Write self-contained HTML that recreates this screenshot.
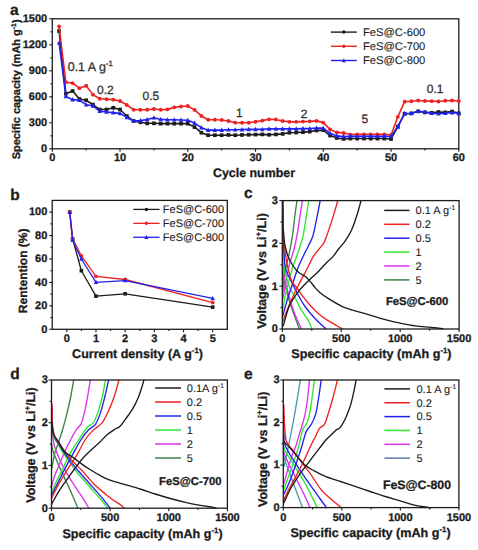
<!DOCTYPE html><html><head><meta charset="utf-8"><style>html,body{margin:0;padding:0;background:#fff;}svg{display:block;}text{font-family:"Liberation Sans", sans-serif;text-rendering:geometricPrecision;}</style></head><body>
<svg width="478" height="550" viewBox="0 0 478 550">
<rect width="478" height="550" fill="#ffffff"/>
<rect x="52.3" y="18.8" width="406.5" height="130" fill="none" stroke="#1c1c1c" stroke-width="1.3"/>
<line x1="52.3" y1="148.8" x2="52.3" y2="151.8" stroke="#1c1c1c" stroke-width="1.1"/>
<line x1="120.05" y1="148.8" x2="120.05" y2="151.8" stroke="#1c1c1c" stroke-width="1.1"/>
<line x1="187.8" y1="148.8" x2="187.8" y2="151.8" stroke="#1c1c1c" stroke-width="1.1"/>
<line x1="255.55" y1="148.8" x2="255.55" y2="151.8" stroke="#1c1c1c" stroke-width="1.1"/>
<line x1="323.3" y1="148.8" x2="323.3" y2="151.8" stroke="#1c1c1c" stroke-width="1.1"/>
<line x1="391.05" y1="148.8" x2="391.05" y2="151.8" stroke="#1c1c1c" stroke-width="1.1"/>
<line x1="458.8" y1="148.8" x2="458.8" y2="151.8" stroke="#1c1c1c" stroke-width="1.1"/>
<line x1="86.17" y1="148.8" x2="86.17" y2="150.6" stroke="#1c1c1c" stroke-width="1.1"/>
<line x1="153.93" y1="148.8" x2="153.93" y2="150.6" stroke="#1c1c1c" stroke-width="1.1"/>
<line x1="221.68" y1="148.8" x2="221.68" y2="150.6" stroke="#1c1c1c" stroke-width="1.1"/>
<line x1="289.43" y1="148.8" x2="289.43" y2="150.6" stroke="#1c1c1c" stroke-width="1.1"/>
<line x1="357.18" y1="148.8" x2="357.18" y2="150.6" stroke="#1c1c1c" stroke-width="1.1"/>
<line x1="424.93" y1="148.8" x2="424.93" y2="150.6" stroke="#1c1c1c" stroke-width="1.1"/>
<line x1="52.3" y1="148.8" x2="49.3" y2="148.8" stroke="#1c1c1c" stroke-width="1.1"/>
<line x1="52.3" y1="122.8" x2="49.3" y2="122.8" stroke="#1c1c1c" stroke-width="1.1"/>
<line x1="52.3" y1="96.8" x2="49.3" y2="96.8" stroke="#1c1c1c" stroke-width="1.1"/>
<line x1="52.3" y1="70.8" x2="49.3" y2="70.8" stroke="#1c1c1c" stroke-width="1.1"/>
<line x1="52.3" y1="44.8" x2="49.3" y2="44.8" stroke="#1c1c1c" stroke-width="1.1"/>
<line x1="52.3" y1="18.8" x2="49.3" y2="18.8" stroke="#1c1c1c" stroke-width="1.1"/>
<line x1="52.3" y1="135.8" x2="50.5" y2="135.8" stroke="#1c1c1c" stroke-width="1.1"/>
<line x1="52.3" y1="109.8" x2="50.5" y2="109.8" stroke="#1c1c1c" stroke-width="1.1"/>
<line x1="52.3" y1="83.8" x2="50.5" y2="83.8" stroke="#1c1c1c" stroke-width="1.1"/>
<line x1="52.3" y1="57.8" x2="50.5" y2="57.8" stroke="#1c1c1c" stroke-width="1.1"/>
<line x1="52.3" y1="31.8" x2="50.5" y2="31.8" stroke="#1c1c1c" stroke-width="1.1"/>
<text x="52.3" y="161.3" font-size="11" font-weight="bold" text-anchor="middle" fill="#1c1c1c" stroke="#1c1c1c" stroke-width="0.3">0</text>
<text x="120.05" y="161.3" font-size="11" font-weight="bold" text-anchor="middle" fill="#1c1c1c" stroke="#1c1c1c" stroke-width="0.3">10</text>
<text x="187.8" y="161.3" font-size="11" font-weight="bold" text-anchor="middle" fill="#1c1c1c" stroke="#1c1c1c" stroke-width="0.3">20</text>
<text x="255.55" y="161.3" font-size="11" font-weight="bold" text-anchor="middle" fill="#1c1c1c" stroke="#1c1c1c" stroke-width="0.3">30</text>
<text x="323.3" y="161.3" font-size="11" font-weight="bold" text-anchor="middle" fill="#1c1c1c" stroke="#1c1c1c" stroke-width="0.3">40</text>
<text x="391.05" y="161.3" font-size="11" font-weight="bold" text-anchor="middle" fill="#1c1c1c" stroke="#1c1c1c" stroke-width="0.3">50</text>
<text x="458.8" y="161.3" font-size="11" font-weight="bold" text-anchor="middle" fill="#1c1c1c" stroke="#1c1c1c" stroke-width="0.3">60</text>
<text x="47.2" y="152.14" font-size="11" font-weight="bold" text-anchor="end" fill="#1c1c1c" stroke="#1c1c1c" stroke-width="0.3">0</text>
<text x="47.2" y="126.14" font-size="11" font-weight="bold" text-anchor="end" fill="#1c1c1c" stroke="#1c1c1c" stroke-width="0.3">300</text>
<text x="47.2" y="100.14" font-size="11" font-weight="bold" text-anchor="end" fill="#1c1c1c" stroke="#1c1c1c" stroke-width="0.3">600</text>
<text x="47.2" y="74.14" font-size="11" font-weight="bold" text-anchor="end" fill="#1c1c1c" stroke="#1c1c1c" stroke-width="0.3">900</text>
<text x="47.2" y="48.14" font-size="11" font-weight="bold" text-anchor="end" fill="#1c1c1c" stroke="#1c1c1c" stroke-width="0.3">1200</text>
<text x="47.2" y="22.14" font-size="11" font-weight="bold" text-anchor="end" fill="#1c1c1c" stroke="#1c1c1c" stroke-width="0.3">1500</text>
<polyline points="59.07,31.02 65.85,93.68 72.62,90.99 79.4,98.97 86.17,100.27 92.95,104.6 99.72,109.54 106.5,109.45 113.28,107.81 120.05,109.54 126.83,116.04 133.6,120.98 140.38,122.28 147.15,123.32 153.93,123.32 160.7,123.67 167.47,123.67 174.25,123.67 181.02,123.67 187.8,123.67 194.57,127.13 201.35,132.68 208.12,135.19 214.9,135.19 221.68,135.19 228.45,134.93 235.23,135.19 242,134.93 248.77,134.76 255.55,134.59 262.32,134.41 269.1,134.76 275.88,134.41 282.65,133.89 289.43,132.68 296.2,132.51 302.98,132.16 309.75,131.64 316.53,130.51 323.3,130.08 330.07,135.54 336.85,137.97 343.62,138.92 350.4,138.57 357.18,138.57 363.95,138.57 370.73,138.57 377.5,138.57 384.28,138.57 391.05,139.01 397.82,126.7 404.6,113.7 411.38,113.44 418.15,111.36 424.93,112.4 431.7,112.83 438.48,111.97 445.25,112.4 452.03,111.53 458.8,113.27" fill="none" stroke="#1c1c1c" stroke-width="1.6" stroke-linejoin="round"/>
<rect x="57.22" y="29.17" width="3.7" height="3.7" fill="#1c1c1c"/>
<rect x="64" y="91.83" width="3.7" height="3.7" fill="#1c1c1c"/>
<rect x="70.78" y="89.14" width="3.7" height="3.7" fill="#1c1c1c"/>
<rect x="77.55" y="97.12" width="3.7" height="3.7" fill="#1c1c1c"/>
<rect x="84.33" y="98.42" width="3.7" height="3.7" fill="#1c1c1c"/>
<rect x="91.1" y="102.75" width="3.7" height="3.7" fill="#1c1c1c"/>
<rect x="97.88" y="107.69" width="3.7" height="3.7" fill="#1c1c1c"/>
<rect x="104.65" y="107.6" width="3.7" height="3.7" fill="#1c1c1c"/>
<rect x="111.43" y="105.96" width="3.7" height="3.7" fill="#1c1c1c"/>
<rect x="118.2" y="107.69" width="3.7" height="3.7" fill="#1c1c1c"/>
<rect x="124.98" y="114.19" width="3.7" height="3.7" fill="#1c1c1c"/>
<rect x="131.75" y="119.13" width="3.7" height="3.7" fill="#1c1c1c"/>
<rect x="138.53" y="120.43" width="3.7" height="3.7" fill="#1c1c1c"/>
<rect x="145.3" y="121.47" width="3.7" height="3.7" fill="#1c1c1c"/>
<rect x="152.08" y="121.47" width="3.7" height="3.7" fill="#1c1c1c"/>
<rect x="158.85" y="121.82" width="3.7" height="3.7" fill="#1c1c1c"/>
<rect x="165.62" y="121.82" width="3.7" height="3.7" fill="#1c1c1c"/>
<rect x="172.4" y="121.82" width="3.7" height="3.7" fill="#1c1c1c"/>
<rect x="179.17" y="121.82" width="3.7" height="3.7" fill="#1c1c1c"/>
<rect x="185.95" y="121.82" width="3.7" height="3.7" fill="#1c1c1c"/>
<rect x="192.72" y="125.28" width="3.7" height="3.7" fill="#1c1c1c"/>
<rect x="199.5" y="130.83" width="3.7" height="3.7" fill="#1c1c1c"/>
<rect x="206.28" y="133.34" width="3.7" height="3.7" fill="#1c1c1c"/>
<rect x="213.05" y="133.34" width="3.7" height="3.7" fill="#1c1c1c"/>
<rect x="219.83" y="133.34" width="3.7" height="3.7" fill="#1c1c1c"/>
<rect x="226.6" y="133.08" width="3.7" height="3.7" fill="#1c1c1c"/>
<rect x="233.38" y="133.34" width="3.7" height="3.7" fill="#1c1c1c"/>
<rect x="240.15" y="133.08" width="3.7" height="3.7" fill="#1c1c1c"/>
<rect x="246.92" y="132.91" width="3.7" height="3.7" fill="#1c1c1c"/>
<rect x="253.7" y="132.74" width="3.7" height="3.7" fill="#1c1c1c"/>
<rect x="260.47" y="132.56" width="3.7" height="3.7" fill="#1c1c1c"/>
<rect x="267.25" y="132.91" width="3.7" height="3.7" fill="#1c1c1c"/>
<rect x="274.02" y="132.56" width="3.7" height="3.7" fill="#1c1c1c"/>
<rect x="280.8" y="132.04" width="3.7" height="3.7" fill="#1c1c1c"/>
<rect x="287.57" y="130.83" width="3.7" height="3.7" fill="#1c1c1c"/>
<rect x="294.35" y="130.66" width="3.7" height="3.7" fill="#1c1c1c"/>
<rect x="301.12" y="130.31" width="3.7" height="3.7" fill="#1c1c1c"/>
<rect x="307.9" y="129.79" width="3.7" height="3.7" fill="#1c1c1c"/>
<rect x="314.68" y="128.66" width="3.7" height="3.7" fill="#1c1c1c"/>
<rect x="321.45" y="128.23" width="3.7" height="3.7" fill="#1c1c1c"/>
<rect x="328.22" y="133.69" width="3.7" height="3.7" fill="#1c1c1c"/>
<rect x="335" y="136.12" width="3.7" height="3.7" fill="#1c1c1c"/>
<rect x="341.77" y="137.07" width="3.7" height="3.7" fill="#1c1c1c"/>
<rect x="348.55" y="136.72" width="3.7" height="3.7" fill="#1c1c1c"/>
<rect x="355.32" y="136.72" width="3.7" height="3.7" fill="#1c1c1c"/>
<rect x="362.1" y="136.72" width="3.7" height="3.7" fill="#1c1c1c"/>
<rect x="368.88" y="136.72" width="3.7" height="3.7" fill="#1c1c1c"/>
<rect x="375.65" y="136.72" width="3.7" height="3.7" fill="#1c1c1c"/>
<rect x="382.43" y="136.72" width="3.7" height="3.7" fill="#1c1c1c"/>
<rect x="389.2" y="137.16" width="3.7" height="3.7" fill="#1c1c1c"/>
<rect x="395.97" y="124.85" width="3.7" height="3.7" fill="#1c1c1c"/>
<rect x="402.75" y="111.85" width="3.7" height="3.7" fill="#1c1c1c"/>
<rect x="409.52" y="111.59" width="3.7" height="3.7" fill="#1c1c1c"/>
<rect x="416.3" y="109.51" width="3.7" height="3.7" fill="#1c1c1c"/>
<rect x="423.07" y="110.55" width="3.7" height="3.7" fill="#1c1c1c"/>
<rect x="429.85" y="110.98" width="3.7" height="3.7" fill="#1c1c1c"/>
<rect x="436.62" y="110.12" width="3.7" height="3.7" fill="#1c1c1c"/>
<rect x="443.4" y="110.55" width="3.7" height="3.7" fill="#1c1c1c"/>
<rect x="450.18" y="109.68" width="3.7" height="3.7" fill="#1c1c1c"/>
<rect x="456.95" y="111.42" width="3.7" height="3.7" fill="#1c1c1c"/>
<polyline points="59.07,26.51 65.85,82.24 72.62,83.11 79.4,88.13 86.17,85.71 92.95,94.63 99.72,98.71 106.5,99.23 113.28,99.66 120.05,100.96 126.83,105.03 133.6,109.71 140.38,109.71 147.15,109.8 153.93,109.02 160.7,109.8 167.47,109.37 174.25,107.37 181.02,106.51 187.8,105.99 194.57,109.89 201.35,115.95 208.12,119.77 214.9,119.77 221.68,119.94 228.45,120.98 235.23,122.63 242,122.8 248.77,122.8 255.55,121.76 262.32,120.63 269.1,119.33 275.88,119.51 282.65,120.98 289.43,121.85 296.2,121.85 302.98,121.59 309.75,121.33 316.53,120.89 323.3,122.63 330.07,129.39 336.85,132.42 343.62,133.03 350.4,134.59 357.18,134.41 363.95,134.41 370.73,134.41 377.5,134.41 384.28,134.41 391.05,134.93 397.82,116.82 404.6,101.65 411.38,101.22 418.15,100.53 424.93,100.96 431.7,101.13 438.48,101.48 445.25,100.7 452.03,100.53 458.8,100.96" fill="none" stroke="#ee2222" stroke-width="1.6" stroke-linejoin="round"/>
<circle cx="59.07" cy="26.51" r="1.94" fill="#ee2222"/>
<circle cx="65.85" cy="82.24" r="1.94" fill="#ee2222"/>
<circle cx="72.62" cy="83.11" r="1.94" fill="#ee2222"/>
<circle cx="79.4" cy="88.13" r="1.94" fill="#ee2222"/>
<circle cx="86.17" cy="85.71" r="1.94" fill="#ee2222"/>
<circle cx="92.95" cy="94.63" r="1.94" fill="#ee2222"/>
<circle cx="99.72" cy="98.71" r="1.94" fill="#ee2222"/>
<circle cx="106.5" cy="99.23" r="1.94" fill="#ee2222"/>
<circle cx="113.28" cy="99.66" r="1.94" fill="#ee2222"/>
<circle cx="120.05" cy="100.96" r="1.94" fill="#ee2222"/>
<circle cx="126.83" cy="105.03" r="1.94" fill="#ee2222"/>
<circle cx="133.6" cy="109.71" r="1.94" fill="#ee2222"/>
<circle cx="140.38" cy="109.71" r="1.94" fill="#ee2222"/>
<circle cx="147.15" cy="109.8" r="1.94" fill="#ee2222"/>
<circle cx="153.93" cy="109.02" r="1.94" fill="#ee2222"/>
<circle cx="160.7" cy="109.8" r="1.94" fill="#ee2222"/>
<circle cx="167.47" cy="109.37" r="1.94" fill="#ee2222"/>
<circle cx="174.25" cy="107.37" r="1.94" fill="#ee2222"/>
<circle cx="181.02" cy="106.51" r="1.94" fill="#ee2222"/>
<circle cx="187.8" cy="105.99" r="1.94" fill="#ee2222"/>
<circle cx="194.57" cy="109.89" r="1.94" fill="#ee2222"/>
<circle cx="201.35" cy="115.95" r="1.94" fill="#ee2222"/>
<circle cx="208.12" cy="119.77" r="1.94" fill="#ee2222"/>
<circle cx="214.9" cy="119.77" r="1.94" fill="#ee2222"/>
<circle cx="221.68" cy="119.94" r="1.94" fill="#ee2222"/>
<circle cx="228.45" cy="120.98" r="1.94" fill="#ee2222"/>
<circle cx="235.23" cy="122.63" r="1.94" fill="#ee2222"/>
<circle cx="242" cy="122.8" r="1.94" fill="#ee2222"/>
<circle cx="248.77" cy="122.8" r="1.94" fill="#ee2222"/>
<circle cx="255.55" cy="121.76" r="1.94" fill="#ee2222"/>
<circle cx="262.32" cy="120.63" r="1.94" fill="#ee2222"/>
<circle cx="269.1" cy="119.33" r="1.94" fill="#ee2222"/>
<circle cx="275.88" cy="119.51" r="1.94" fill="#ee2222"/>
<circle cx="282.65" cy="120.98" r="1.94" fill="#ee2222"/>
<circle cx="289.43" cy="121.85" r="1.94" fill="#ee2222"/>
<circle cx="296.2" cy="121.85" r="1.94" fill="#ee2222"/>
<circle cx="302.98" cy="121.59" r="1.94" fill="#ee2222"/>
<circle cx="309.75" cy="121.33" r="1.94" fill="#ee2222"/>
<circle cx="316.53" cy="120.89" r="1.94" fill="#ee2222"/>
<circle cx="323.3" cy="122.63" r="1.94" fill="#ee2222"/>
<circle cx="330.07" cy="129.39" r="1.94" fill="#ee2222"/>
<circle cx="336.85" cy="132.42" r="1.94" fill="#ee2222"/>
<circle cx="343.62" cy="133.03" r="1.94" fill="#ee2222"/>
<circle cx="350.4" cy="134.59" r="1.94" fill="#ee2222"/>
<circle cx="357.18" cy="134.41" r="1.94" fill="#ee2222"/>
<circle cx="363.95" cy="134.41" r="1.94" fill="#ee2222"/>
<circle cx="370.73" cy="134.41" r="1.94" fill="#ee2222"/>
<circle cx="377.5" cy="134.41" r="1.94" fill="#ee2222"/>
<circle cx="384.28" cy="134.41" r="1.94" fill="#ee2222"/>
<circle cx="391.05" cy="134.93" r="1.94" fill="#ee2222"/>
<circle cx="397.82" cy="116.82" r="1.94" fill="#ee2222"/>
<circle cx="404.6" cy="101.65" r="1.94" fill="#ee2222"/>
<circle cx="411.38" cy="101.22" r="1.94" fill="#ee2222"/>
<circle cx="418.15" cy="100.53" r="1.94" fill="#ee2222"/>
<circle cx="424.93" cy="100.96" r="1.94" fill="#ee2222"/>
<circle cx="431.7" cy="101.13" r="1.94" fill="#ee2222"/>
<circle cx="438.48" cy="101.48" r="1.94" fill="#ee2222"/>
<circle cx="445.25" cy="100.7" r="1.94" fill="#ee2222"/>
<circle cx="452.03" cy="100.53" r="1.94" fill="#ee2222"/>
<circle cx="458.8" cy="100.96" r="1.94" fill="#ee2222"/>
<polyline points="59.07,42.72 65.85,96.37 72.62,99.66 79.4,100.27 86.17,104.69 92.95,105.81 99.72,111.19 106.5,111.97 113.28,112.66 120.05,113.35 126.83,117.43 133.6,120.98 140.38,120.63 147.15,119.42 153.93,117.69 160.7,119.42 167.47,119.77 174.25,119.77 181.02,119.94 187.8,120.2 194.57,123.06 201.35,127.65 208.12,130.17 214.9,130.17 221.68,130.17 228.45,129.73 235.23,129.73 242,129.56 248.77,129.39 255.55,129.39 262.32,129.3 269.1,128.87 275.88,128.87 282.65,128.87 289.43,128.87 296.2,128.87 302.98,128.61 309.75,128.61 316.53,128 323.3,128.17 330.07,133.37 336.85,135.89 343.62,136.58 350.4,136.23 357.18,136.23 363.95,136.23 370.73,136.23 377.5,136.23 384.28,136.23 391.05,136.49 397.82,126.53 404.6,113.53 411.38,113.27 418.15,111.19 424.93,111.97 431.7,113.18 438.48,113.7 445.25,113.18 452.03,112.57 458.8,113.44" fill="none" stroke="#2222ee" stroke-width="1.6" stroke-linejoin="round"/>
<polygon points="59.07,40.18 56.76,44.57 61.39,44.57" fill="#2222ee"/>
<polygon points="65.85,93.82 63.54,98.22 68.16,98.22" fill="#2222ee"/>
<polygon points="72.62,97.12 70.31,101.51 74.94,101.51" fill="#2222ee"/>
<polygon points="79.4,97.72 77.09,102.12 81.71,102.12" fill="#2222ee"/>
<polygon points="86.17,102.14 83.86,106.54 88.49,106.54" fill="#2222ee"/>
<polygon points="92.95,103.27 90.64,107.66 95.26,107.66" fill="#2222ee"/>
<polygon points="99.72,108.64 97.41,113.04 102.04,113.04" fill="#2222ee"/>
<polygon points="106.5,109.42 104.19,113.82 108.81,113.82" fill="#2222ee"/>
<polygon points="113.28,110.12 110.96,114.51 115.59,114.51" fill="#2222ee"/>
<polygon points="120.05,110.81 117.74,115.2 122.36,115.2" fill="#2222ee"/>
<polygon points="126.83,114.88 124.51,119.28 129.14,119.28" fill="#2222ee"/>
<polygon points="133.6,118.44 131.29,122.83 135.91,122.83" fill="#2222ee"/>
<polygon points="140.38,118.09 138.06,122.48 142.69,122.48" fill="#2222ee"/>
<polygon points="147.15,116.88 144.84,121.27 149.46,121.27" fill="#2222ee"/>
<polygon points="153.93,115.14 151.61,119.54 156.24,119.54" fill="#2222ee"/>
<polygon points="160.7,116.88 158.39,121.27 163.01,121.27" fill="#2222ee"/>
<polygon points="167.47,117.22 165.16,121.62 169.79,121.62" fill="#2222ee"/>
<polygon points="174.25,117.22 171.94,121.62 176.56,121.62" fill="#2222ee"/>
<polygon points="181.02,117.4 178.71,121.79 183.34,121.79" fill="#2222ee"/>
<polygon points="187.8,117.66 185.49,122.05 190.11,122.05" fill="#2222ee"/>
<polygon points="194.57,120.52 192.26,124.91 196.89,124.91" fill="#2222ee"/>
<polygon points="201.35,125.11 199.04,129.5 203.66,129.5" fill="#2222ee"/>
<polygon points="208.12,127.62 205.81,132.02 210.44,132.02" fill="#2222ee"/>
<polygon points="214.9,127.62 212.59,132.02 217.21,132.02" fill="#2222ee"/>
<polygon points="221.68,127.62 219.36,132.02 223.99,132.02" fill="#2222ee"/>
<polygon points="228.45,127.19 226.14,131.58 230.76,131.58" fill="#2222ee"/>
<polygon points="235.23,127.19 232.91,131.58 237.54,131.58" fill="#2222ee"/>
<polygon points="242,127.02 239.69,131.41 244.31,131.41" fill="#2222ee"/>
<polygon points="248.77,126.84 246.46,131.24 251.09,131.24" fill="#2222ee"/>
<polygon points="255.55,126.84 253.24,131.24 257.86,131.24" fill="#2222ee"/>
<polygon points="262.32,126.76 260.01,131.15 264.64,131.15" fill="#2222ee"/>
<polygon points="269.1,126.32 266.79,130.72 271.41,130.72" fill="#2222ee"/>
<polygon points="275.88,126.32 273.56,130.72 278.19,130.72" fill="#2222ee"/>
<polygon points="282.65,126.32 280.34,130.72 284.96,130.72" fill="#2222ee"/>
<polygon points="289.43,126.32 287.11,130.72 291.74,130.72" fill="#2222ee"/>
<polygon points="296.2,126.32 293.89,130.72 298.51,130.72" fill="#2222ee"/>
<polygon points="302.98,126.06 300.66,130.46 305.29,130.46" fill="#2222ee"/>
<polygon points="309.75,126.06 307.44,130.46 312.06,130.46" fill="#2222ee"/>
<polygon points="316.53,125.46 314.21,129.85 318.84,129.85" fill="#2222ee"/>
<polygon points="323.3,125.63 320.99,130.02 325.61,130.02" fill="#2222ee"/>
<polygon points="330.07,130.83 327.76,135.22 332.39,135.22" fill="#2222ee"/>
<polygon points="336.85,133.34 334.54,137.74 339.16,137.74" fill="#2222ee"/>
<polygon points="343.62,134.04 341.31,138.43 345.94,138.43" fill="#2222ee"/>
<polygon points="350.4,133.69 348.09,138.08 352.71,138.08" fill="#2222ee"/>
<polygon points="357.18,133.69 354.86,138.08 359.49,138.08" fill="#2222ee"/>
<polygon points="363.95,133.69 361.64,138.08 366.26,138.08" fill="#2222ee"/>
<polygon points="370.73,133.69 368.41,138.08 373.04,138.08" fill="#2222ee"/>
<polygon points="377.5,133.69 375.19,138.08 379.81,138.08" fill="#2222ee"/>
<polygon points="384.28,133.69 381.96,138.08 386.59,138.08" fill="#2222ee"/>
<polygon points="391.05,133.95 388.74,138.34 393.36,138.34" fill="#2222ee"/>
<polygon points="397.82,123.98 395.51,128.38 400.14,128.38" fill="#2222ee"/>
<polygon points="404.6,110.98 402.29,115.38 406.91,115.38" fill="#2222ee"/>
<polygon points="411.38,110.72 409.06,115.12 413.69,115.12" fill="#2222ee"/>
<polygon points="418.15,108.64 415.84,113.04 420.46,113.04" fill="#2222ee"/>
<polygon points="424.93,109.42 422.61,113.82 427.24,113.82" fill="#2222ee"/>
<polygon points="431.7,110.64 429.39,115.03 434.01,115.03" fill="#2222ee"/>
<polygon points="438.48,111.16 436.16,115.55 440.79,115.55" fill="#2222ee"/>
<polygon points="445.25,110.64 442.94,115.03 447.56,115.03" fill="#2222ee"/>
<polygon points="452.03,110.03 449.71,114.42 454.34,114.42" fill="#2222ee"/>
<polygon points="458.8,110.9 456.49,115.29 461.11,115.29" fill="#2222ee"/>
<text x="254" y="177.2" font-size="12.4" font-weight="bold" text-anchor="middle" fill="#1c1c1c" stroke="#1c1c1c" stroke-width="0.3">Cycle number</text>
<text x="19.9" y="89.4" font-size="11" font-weight="bold" text-anchor="middle" fill="#1c1c1c" stroke="#1c1c1c" stroke-width="0.3" transform="rotate(-90 19.9 89.4)">Specific capacity (mAh g<tspan font-size="6.82" dy="-4.18">-1</tspan><tspan dy="4.18" font-size="11">)</tspan></text>
<text x="10" y="15" font-size="15.5" font-weight="bold" text-anchor="start" fill="#1c1c1c" stroke="#1c1c1c" stroke-width="0.3">a</text>
<text x="67.7" y="71" font-size="12.5" font-weight="normal" text-anchor="start" fill="#333333" stroke="#333333" stroke-width="0.3">0.1 A g<tspan font-size="7.75" dy="-4.75">-1</tspan></text>
<text x="97" y="94" font-size="12" font-weight="normal" text-anchor="start" fill="#333333" stroke="#333333" stroke-width="0.3">0.2</text>
<text x="142.6" y="100.2" font-size="12" font-weight="normal" text-anchor="start" fill="#333333" stroke="#333333" stroke-width="0.3">0.5</text>
<text x="236" y="117.3" font-size="12" font-weight="normal" text-anchor="start" fill="#333333" stroke="#333333" stroke-width="0.3">1</text>
<text x="300.7" y="118.1" font-size="12" font-weight="normal" text-anchor="start" fill="#333333" stroke="#333333" stroke-width="0.3">2</text>
<text x="361.5" y="123.2" font-size="12" font-weight="normal" text-anchor="start" fill="#333333" stroke="#333333" stroke-width="0.3">5</text>
<text x="426.8" y="93.4" font-size="12" font-weight="normal" text-anchor="start" fill="#333333" stroke="#333333" stroke-width="0.3">0.1</text>
<line x1="330.9" y1="32.1" x2="356.8" y2="32.1" stroke="#1c1c1c" stroke-width="1.4"/>
<circle cx="343.8" cy="32.1" r="1.73" fill="#1c1c1c"/>
<text x="363" y="35.7" font-size="11.2" font-weight="normal" text-anchor="start" fill="#1c1c1c" stroke="#1c1c1c" stroke-width="0.1">FeS@C-600</text>
<line x1="330.9" y1="46.3" x2="356.8" y2="46.3" stroke="#ee2222" stroke-width="1.4"/>
<circle cx="343.8" cy="46.3" r="1.73" fill="#ee2222"/>
<text x="363" y="49.9" font-size="11.2" font-weight="normal" text-anchor="start" fill="#1c1c1c" stroke="#1c1c1c" stroke-width="0.1">FeS@C-700</text>
<line x1="330.9" y1="60.5" x2="356.8" y2="60.5" stroke="#2222ee" stroke-width="1.4"/>
<polygon points="343.8,58.23 341.74,62.15 345.86,62.15" fill="#2222ee"/>
<text x="363" y="64.1" font-size="11.2" font-weight="normal" text-anchor="start" fill="#1c1c1c" stroke="#1c1c1c" stroke-width="0.1">FeS@C-800</text>
<rect x="52.2" y="200.4" width="175.1" height="128.9" fill="none" stroke="#1c1c1c" stroke-width="1.3"/>
<line x1="66.79" y1="329.3" x2="66.79" y2="332.3" stroke="#1c1c1c" stroke-width="1.1"/>
<line x1="95.98" y1="329.3" x2="95.98" y2="332.3" stroke="#1c1c1c" stroke-width="1.1"/>
<line x1="125.16" y1="329.3" x2="125.16" y2="332.3" stroke="#1c1c1c" stroke-width="1.1"/>
<line x1="154.34" y1="329.3" x2="154.34" y2="332.3" stroke="#1c1c1c" stroke-width="1.1"/>
<line x1="183.53" y1="329.3" x2="183.53" y2="332.3" stroke="#1c1c1c" stroke-width="1.1"/>
<line x1="212.71" y1="329.3" x2="212.71" y2="332.3" stroke="#1c1c1c" stroke-width="1.1"/>
<line x1="81.38" y1="329.3" x2="81.38" y2="331.1" stroke="#1c1c1c" stroke-width="1.1"/>
<line x1="110.57" y1="329.3" x2="110.57" y2="331.1" stroke="#1c1c1c" stroke-width="1.1"/>
<line x1="139.75" y1="329.3" x2="139.75" y2="331.1" stroke="#1c1c1c" stroke-width="1.1"/>
<line x1="168.93" y1="329.3" x2="168.93" y2="331.1" stroke="#1c1c1c" stroke-width="1.1"/>
<line x1="198.12" y1="329.3" x2="198.12" y2="331.1" stroke="#1c1c1c" stroke-width="1.1"/>
<line x1="52.2" y1="329.3" x2="49.2" y2="329.3" stroke="#1c1c1c" stroke-width="1.1"/>
<line x1="52.2" y1="305.86" x2="49.2" y2="305.86" stroke="#1c1c1c" stroke-width="1.1"/>
<line x1="52.2" y1="282.43" x2="49.2" y2="282.43" stroke="#1c1c1c" stroke-width="1.1"/>
<line x1="52.2" y1="258.99" x2="49.2" y2="258.99" stroke="#1c1c1c" stroke-width="1.1"/>
<line x1="52.2" y1="235.55" x2="49.2" y2="235.55" stroke="#1c1c1c" stroke-width="1.1"/>
<line x1="52.2" y1="212.12" x2="49.2" y2="212.12" stroke="#1c1c1c" stroke-width="1.1"/>
<line x1="52.2" y1="317.58" x2="50.4" y2="317.58" stroke="#1c1c1c" stroke-width="1.1"/>
<line x1="52.2" y1="294.15" x2="50.4" y2="294.15" stroke="#1c1c1c" stroke-width="1.1"/>
<line x1="52.2" y1="270.71" x2="50.4" y2="270.71" stroke="#1c1c1c" stroke-width="1.1"/>
<line x1="52.2" y1="247.27" x2="50.4" y2="247.27" stroke="#1c1c1c" stroke-width="1.1"/>
<line x1="52.2" y1="223.84" x2="50.4" y2="223.84" stroke="#1c1c1c" stroke-width="1.1"/>
<text x="66.79" y="341.8" font-size="11" font-weight="bold" text-anchor="middle" fill="#1c1c1c" stroke="#1c1c1c" stroke-width="0.3">0</text>
<text x="95.98" y="341.8" font-size="11" font-weight="bold" text-anchor="middle" fill="#1c1c1c" stroke="#1c1c1c" stroke-width="0.3">1</text>
<text x="125.16" y="341.8" font-size="11" font-weight="bold" text-anchor="middle" fill="#1c1c1c" stroke="#1c1c1c" stroke-width="0.3">2</text>
<text x="154.34" y="341.8" font-size="11" font-weight="bold" text-anchor="middle" fill="#1c1c1c" stroke="#1c1c1c" stroke-width="0.3">3</text>
<text x="183.53" y="341.8" font-size="11" font-weight="bold" text-anchor="middle" fill="#1c1c1c" stroke="#1c1c1c" stroke-width="0.3">4</text>
<text x="212.71" y="341.8" font-size="11" font-weight="bold" text-anchor="middle" fill="#1c1c1c" stroke="#1c1c1c" stroke-width="0.3">5</text>
<text x="47.3" y="332.64" font-size="11" font-weight="bold" text-anchor="end" fill="#1c1c1c" stroke="#1c1c1c" stroke-width="0.3">0</text>
<text x="47.3" y="309.2" font-size="11" font-weight="bold" text-anchor="end" fill="#1c1c1c" stroke="#1c1c1c" stroke-width="0.3">20</text>
<text x="47.3" y="285.77" font-size="11" font-weight="bold" text-anchor="end" fill="#1c1c1c" stroke="#1c1c1c" stroke-width="0.3">40</text>
<text x="47.3" y="262.33" font-size="11" font-weight="bold" text-anchor="end" fill="#1c1c1c" stroke="#1c1c1c" stroke-width="0.3">60</text>
<text x="47.3" y="238.89" font-size="11" font-weight="bold" text-anchor="end" fill="#1c1c1c" stroke="#1c1c1c" stroke-width="0.3">80</text>
<text x="47.3" y="215.46" font-size="11" font-weight="bold" text-anchor="end" fill="#1c1c1c" stroke="#1c1c1c" stroke-width="0.3">100</text>
<polyline points="69.71,212.12 72.63,239.07 81.38,270.71 95.98,296.14 125.16,293.79 212.71,307.15" fill="none" stroke="#1c1c1c" stroke-width="1.3" stroke-linejoin="round"/>
<rect x="67.91" y="210.32" width="3.6" height="3.6" fill="#1c1c1c"/>
<rect x="70.83" y="237.27" width="3.6" height="3.6" fill="#1c1c1c"/>
<rect x="79.58" y="268.91" width="3.6" height="3.6" fill="#1c1c1c"/>
<rect x="94.18" y="294.34" width="3.6" height="3.6" fill="#1c1c1c"/>
<rect x="123.36" y="291.99" width="3.6" height="3.6" fill="#1c1c1c"/>
<rect x="210.91" y="305.35" width="3.6" height="3.6" fill="#1c1c1c"/>
<polyline points="69.71,212.12 72.63,238.48 81.38,255.94 95.98,276.33 125.16,279.5 212.71,302.58" fill="none" stroke="#ee2222" stroke-width="1.3" stroke-linejoin="round"/>
<circle cx="69.71" cy="212.12" r="1.89" fill="#ee2222"/>
<circle cx="72.63" cy="238.48" r="1.89" fill="#ee2222"/>
<circle cx="81.38" cy="255.94" r="1.89" fill="#ee2222"/>
<circle cx="95.98" cy="276.33" r="1.89" fill="#ee2222"/>
<circle cx="125.16" cy="279.5" r="1.89" fill="#ee2222"/>
<circle cx="212.71" cy="302.58" r="1.89" fill="#ee2222"/>
<polyline points="69.71,212.12 72.63,240.24 81.38,258.99 95.98,282.31 125.16,280.55 212.71,298.48" fill="none" stroke="#2222ee" stroke-width="1.3" stroke-linejoin="round"/>
<polygon points="69.71,209.64 67.46,213.92 71.96,213.92" fill="#2222ee"/>
<polygon points="72.63,237.77 70.38,242.04 74.88,242.04" fill="#2222ee"/>
<polygon points="81.38,256.52 79.13,260.79 83.63,260.79" fill="#2222ee"/>
<polygon points="95.98,279.84 93.73,284.11 98.23,284.11" fill="#2222ee"/>
<polygon points="125.16,278.08 122.91,282.35 127.41,282.35" fill="#2222ee"/>
<polygon points="212.71,296.01 210.46,300.28 214.96,300.28" fill="#2222ee"/>
<text x="137.5" y="358" font-size="12.5" font-weight="bold" text-anchor="middle" fill="#1c1c1c" stroke="#1c1c1c" stroke-width="0.3">Current density (A g<tspan font-size="7.75" dy="-4.75">-1</tspan><tspan dy="4.75">)</tspan></text>
<text x="26.7" y="270.8" font-size="12" font-weight="bold" text-anchor="middle" fill="#1c1c1c" stroke="#1c1c1c" stroke-width="0.3" transform="rotate(-90 26.7 270.8)">Rentention (%)</text>
<text x="10.2" y="199.8" font-size="15.5" font-weight="bold" text-anchor="start" fill="#1c1c1c" stroke="#1c1c1c" stroke-width="0.3">b</text>
<line x1="133.2" y1="209.4" x2="159.6" y2="209.4" stroke="#1c1c1c" stroke-width="1.3"/>
<circle cx="146.4" cy="209.4" r="1.73" fill="#1c1c1c"/>
<text x="162.8" y="212.8" font-size="11" font-weight="normal" text-anchor="start" fill="#1c1c1c" stroke="#1c1c1c" stroke-width="0.1">FeS@C-600</text>
<line x1="133.2" y1="223.35" x2="159.6" y2="223.35" stroke="#ee2222" stroke-width="1.3"/>
<circle cx="146.4" cy="223.35" r="1.73" fill="#ee2222"/>
<text x="162.8" y="226.75" font-size="11" font-weight="normal" text-anchor="start" fill="#1c1c1c" stroke="#1c1c1c" stroke-width="0.1">FeS@C-700</text>
<line x1="133.2" y1="237.3" x2="159.6" y2="237.3" stroke="#2222ee" stroke-width="1.3"/>
<polygon points="146.4,235.03 144.34,238.95 148.46,238.95" fill="#2222ee"/>
<text x="162.8" y="240.7" font-size="11" font-weight="normal" text-anchor="start" fill="#1c1c1c" stroke="#1c1c1c" stroke-width="0.1">FeS@C-800</text>
<path d="M282.8,292 C283.09,289.28 284.01,279.32 284.6,275 C285.19,270.68 285.7,268.76 286.5,265 C287.3,261.24 288.59,256.51 289.6,251.5 C290.61,246.49 291.98,239.2 292.8,233.7 C293.62,228.2 294.03,222.41 294.7,217.1 C295.37,211.79 296.63,203.16 297,200.5" fill="none" stroke="#3c8244" stroke-width="1.35" stroke-linejoin="round" stroke-linecap="round"/>
<path d="M283,265 C283.08,266.97 282.64,272.07 283.5,277.3 C284.36,282.53 286.8,291.99 288.4,297.7 C290,303.41 291.77,308.06 293.5,313 C295.23,317.94 298.29,326.1 299.2,328.6" fill="none" stroke="#3c8244" stroke-width="1.35" stroke-linejoin="round" stroke-linecap="round"/>
<path d="M282.6,300.2 C283.11,297.35 284.73,288.03 285.8,282.4 C286.87,276.77 287.97,270.34 289.3,265 C290.63,259.66 292.82,254.01 294.1,249 C295.38,243.99 296.39,238.8 297.3,233.7 C298.21,228.6 298.98,222.41 299.8,217.1 C300.62,211.79 301.98,203.16 302.4,200.5" fill="none" stroke="#dd33ee" stroke-width="1.35" stroke-linejoin="round" stroke-linecap="round"/>
<path d="M283,258 C283.14,260.67 283.04,268.97 283.9,274.7 C284.76,280.43 286.86,288.09 288.4,293.8 C289.94,299.51 291.47,304.83 293.5,310.4 C295.53,315.97 299.88,325.69 301.1,328.6" fill="none" stroke="#dd33ee" stroke-width="1.35" stroke-linejoin="round" stroke-linecap="round"/>
<path d="M282.6,310.4 C283.11,307.55 284.57,298.1 285.8,292.6 C287.03,287.1 289.18,280.13 290.3,276 C291.42,271.87 291.38,271.12 292.8,266.8 C294.22,262.48 297.57,253.9 299.2,249 C300.83,244.1 301.88,241.3 303,236.2 C304.12,231.1 305.27,222.81 306.2,217.1 C307.13,211.39 308.38,203.16 308.8,200.5" fill="none" stroke="#2ee62e" stroke-width="1.35" stroke-linejoin="round" stroke-linecap="round"/>
<path d="M283.3,249 C283.38,251.08 283.56,258.29 283.8,262 C284.04,265.71 283.87,268.12 284.8,272.2 C285.73,276.28 288.37,284.22 289.6,287.5 C290.83,290.78 291.22,290.27 292.5,292.7 C293.78,295.13 296.4,300.32 297.6,302.7 C298.8,305.08 298.78,305.49 300,307.6 C301.22,309.71 303.7,313.56 305.2,315.9 C306.7,318.24 308.39,320.17 309.4,322.2 C310.41,324.23 311.16,327.58 311.5,328.6" fill="none" stroke="#2ee62e" stroke-width="1.35" stroke-linejoin="round" stroke-linecap="round"/>
<path d="M282.6,316.8 C283.32,314.14 285.36,305.91 287.1,300.2 C288.84,294.49 291.77,286.25 293.5,281.1 C295.23,275.95 296.08,272.53 297.9,268 C299.72,263.47 302.96,256.86 304.9,252.8 C306.84,248.74 308.67,245.46 310,242.6 C311.33,239.74 312.08,238.98 313.2,234.9 C314.32,230.82 315.88,222.6 317,217.1 C318.12,211.6 319.69,203.16 320.2,200.5" fill="none" stroke="#2222ee" stroke-width="1.35" stroke-linejoin="round" stroke-linecap="round"/>
<path d="M283.3,240 C283.44,242.4 283.8,250.26 284.2,255 C284.6,259.74 284.47,264.98 285.8,269.6 C287.13,274.22 290.61,280.01 292.5,283.9 C294.39,287.79 295.76,290.52 297.6,293.9 C299.44,297.28 301.79,301.7 304,305 C306.21,308.3 309.08,311.78 311.4,314.5 C313.72,317.22 316.23,319.74 318.5,322 C320.77,324.26 324.46,327.54 325.6,328.6" fill="none" stroke="#2222ee" stroke-width="1.35" stroke-linejoin="round" stroke-linecap="round"/>
<path d="M282.6,321.9 C283.72,319.04 287.25,309.5 289.6,304 C291.95,298.5 294.44,293.26 297.3,287.5 C300.16,281.74 304.96,272.94 307.5,268 C310.04,263.06 311.17,259.85 313.2,256.6 C315.23,253.35 318.47,249.94 320.2,247.7 C321.93,245.46 322.77,245.05 324,242.6 C325.23,240.15 326.46,236.48 327.9,232.4 C329.34,228.32 331.42,222.2 333,217.1 C334.58,212 337.03,203.16 337.8,200.5" fill="none" stroke="#ee2222" stroke-width="1.35" stroke-linejoin="round" stroke-linecap="round"/>
<path d="M283.3,229.8 C283.49,232.46 283.89,240.93 284.5,246.4 C285.11,251.87 286.01,258.61 287.1,264 C288.19,269.39 289.62,276.12 291.3,280.1 C292.98,284.08 295.6,286.08 297.6,288.9 C299.6,291.72 301.8,295.09 303.8,297.7 C305.8,300.31 307.68,302.59 310.1,305.2 C312.52,307.81 316.16,311.62 318.9,314 C321.64,316.38 324.7,318.45 327.2,320.1 C329.7,321.75 332.16,322.94 334.5,324.3 C336.84,325.66 340.63,327.91 341.8,328.6" fill="none" stroke="#ee2222" stroke-width="1.35" stroke-linejoin="round" stroke-linecap="round"/>
<path d="M283.3,325.7 C284.31,322.44 287.15,310.8 289.6,305.3 C292.05,299.8 295.53,295.27 298.6,291.3 C301.67,287.33 305.55,283.76 308.8,280.5 C312.05,277.24 315.96,273.86 318.9,270.9 C321.84,267.94 324.94,264.29 327.2,262 C329.46,259.71 331.19,258.68 333,256.6 C334.81,254.52 336.56,251.46 338.5,249 C340.44,246.54 342.97,244.32 345.1,241.2 C347.23,238.08 349.78,234.06 351.8,229.5 C353.82,224.94 356.23,217.31 357.7,212.7 C359.17,208.09 360.47,202.62 361,200.7" fill="none" stroke="#1c1c1c" stroke-width="1.35" stroke-linejoin="round" stroke-linecap="round"/>
<path d="M283,200.7 C283.03,202.99 283.15,210.34 283.2,215 C283.25,219.66 283.09,225.38 283.3,229.8 C283.51,234.22 283.83,238.57 284.5,242.6 C285.17,246.63 286.22,251.42 287.5,255 C288.78,258.58 290.69,262.18 292.5,265 C294.31,267.82 296.78,270.79 298.8,272.6 C300.82,274.41 303.29,274.89 305.1,276.3 C306.91,277.71 308.5,279.59 310.1,281.4 C311.7,283.21 313.5,285.79 315.1,287.6 C316.7,289.41 317.89,290.89 320.1,292.7 C322.31,294.51 325.43,296.72 328.9,298.9 C332.37,301.08 338.42,304.62 341.8,306.3 C345.18,307.98 347.89,308.68 350,309.4 C352.11,310.12 351.78,309.89 355,310.8 C358.22,311.71 365.27,313.69 370.1,315.1 C374.93,316.51 380.37,318.32 385.2,319.6 C390.03,320.88 395.48,322.09 400.3,323.1 C405.12,324.11 410.48,325.23 415.3,325.9 C420.12,326.57 425.98,326.87 430.4,327.3 C434.82,327.73 440.9,328.39 442.9,328.6" fill="none" stroke="#1c1c1c" stroke-width="1.35" stroke-linejoin="round" stroke-linecap="round"/>
<rect x="282.3" y="200.6" width="176.8" height="128.4" fill="none" stroke="#1c1c1c" stroke-width="1.3"/>
<line x1="282.3" y1="329" x2="282.3" y2="332" stroke="#1c1c1c" stroke-width="1.1"/>
<line x1="341.23" y1="329" x2="341.23" y2="332" stroke="#1c1c1c" stroke-width="1.1"/>
<line x1="400.17" y1="329" x2="400.17" y2="332" stroke="#1c1c1c" stroke-width="1.1"/>
<line x1="459.1" y1="329" x2="459.1" y2="332" stroke="#1c1c1c" stroke-width="1.1"/>
<line x1="311.77" y1="329" x2="311.77" y2="330.8" stroke="#1c1c1c" stroke-width="1.1"/>
<line x1="370.7" y1="329" x2="370.7" y2="330.8" stroke="#1c1c1c" stroke-width="1.1"/>
<line x1="429.63" y1="329" x2="429.63" y2="330.8" stroke="#1c1c1c" stroke-width="1.1"/>
<line x1="282.3" y1="329" x2="279.3" y2="329" stroke="#1c1c1c" stroke-width="1.1"/>
<line x1="282.3" y1="286.2" x2="279.3" y2="286.2" stroke="#1c1c1c" stroke-width="1.1"/>
<line x1="282.3" y1="243.4" x2="279.3" y2="243.4" stroke="#1c1c1c" stroke-width="1.1"/>
<line x1="282.3" y1="200.6" x2="279.3" y2="200.6" stroke="#1c1c1c" stroke-width="1.1"/>
<line x1="282.3" y1="307.6" x2="280.5" y2="307.6" stroke="#1c1c1c" stroke-width="1.1"/>
<line x1="282.3" y1="264.8" x2="280.5" y2="264.8" stroke="#1c1c1c" stroke-width="1.1"/>
<line x1="282.3" y1="222" x2="280.5" y2="222" stroke="#1c1c1c" stroke-width="1.1"/>
<text x="282.3" y="342" font-size="11" font-weight="bold" text-anchor="middle" fill="#1c1c1c" stroke="#1c1c1c" stroke-width="0.3">0</text>
<text x="341.23" y="342" font-size="11" font-weight="bold" text-anchor="middle" fill="#1c1c1c" stroke="#1c1c1c" stroke-width="0.3">500</text>
<text x="400.17" y="342" font-size="11" font-weight="bold" text-anchor="middle" fill="#1c1c1c" stroke="#1c1c1c" stroke-width="0.3">1000</text>
<text x="459.1" y="342" font-size="11" font-weight="bold" text-anchor="middle" fill="#1c1c1c" stroke="#1c1c1c" stroke-width="0.3">1500</text>
<text x="277.8" y="332.34" font-size="11" font-weight="bold" text-anchor="end" fill="#1c1c1c" stroke="#1c1c1c" stroke-width="0.3">0</text>
<text x="277.8" y="289.54" font-size="11" font-weight="bold" text-anchor="end" fill="#1c1c1c" stroke="#1c1c1c" stroke-width="0.3">1</text>
<text x="277.8" y="246.74" font-size="11" font-weight="bold" text-anchor="end" fill="#1c1c1c" stroke="#1c1c1c" stroke-width="0.3">2</text>
<text x="277.8" y="203.94" font-size="11" font-weight="bold" text-anchor="end" fill="#1c1c1c" stroke="#1c1c1c" stroke-width="0.3">3</text>
<text x="244" y="197.8" font-size="15.5" font-weight="bold" text-anchor="start" fill="#1c1c1c" stroke="#1c1c1c" stroke-width="0.3">c</text>
<text x="266.2" y="270.9" font-size="12.5" font-weight="bold" text-anchor="middle" fill="#1c1c1c" stroke="#1c1c1c" stroke-width="0.3" transform="rotate(-90 266.2 270.9)">Voltage (V vs Li<tspan font-size="7.75" dy="-4.75">+</tspan><tspan dy="4.75">/Li)</tspan></text>
<text x="291.3" y="357.9" font-size="12.6" font-weight="bold" text-anchor="start" fill="#1c1c1c" stroke="#1c1c1c" stroke-width="0.3">Specific capacity (mAh g<tspan font-size="7.81" dy="-4.79">-1</tspan><tspan dy="4.79">)</tspan></text>
<line x1="384.2" y1="210.4" x2="409.5" y2="210.4" stroke="#1c1c1c" stroke-width="1.5"/>
<text x="415.6" y="214.2" font-size="11" font-weight="normal" text-anchor="start" fill="#1c1c1c" stroke="#1c1c1c" stroke-width="0.1">0.1 A g<tspan font-size="6.82" dy="-4.18">-1</tspan></text>
<line x1="384.2" y1="224.3" x2="409.5" y2="224.3" stroke="#ee2222" stroke-width="1.5"/>
<text x="415.6" y="228.1" font-size="11" font-weight="normal" text-anchor="start" fill="#1c1c1c" stroke="#1c1c1c" stroke-width="0.1">0.2</text>
<line x1="384.2" y1="238.2" x2="409.5" y2="238.2" stroke="#2222ee" stroke-width="1.5"/>
<text x="415.6" y="242" font-size="11" font-weight="normal" text-anchor="start" fill="#1c1c1c" stroke="#1c1c1c" stroke-width="0.1">0.5</text>
<line x1="384.2" y1="252.1" x2="409.5" y2="252.1" stroke="#2ee62e" stroke-width="1.5"/>
<text x="415.6" y="255.9" font-size="11" font-weight="normal" text-anchor="start" fill="#1c1c1c" stroke="#1c1c1c" stroke-width="0.1">1</text>
<line x1="384.2" y1="266" x2="409.5" y2="266" stroke="#dd33ee" stroke-width="1.5"/>
<text x="415.6" y="269.8" font-size="11" font-weight="normal" text-anchor="start" fill="#1c1c1c" stroke="#1c1c1c" stroke-width="0.1">2</text>
<line x1="384.2" y1="279.9" x2="409.5" y2="279.9" stroke="#3c8244" stroke-width="1.5"/>
<text x="415.6" y="283.7" font-size="11" font-weight="normal" text-anchor="start" fill="#1c1c1c" stroke="#1c1c1c" stroke-width="0.1">5</text>
<text x="385.9" y="305" font-size="11.3" font-weight="bold" text-anchor="start" fill="#1c1c1c" stroke="#1c1c1c" stroke-width="0.3">FeS@C-600</text>
<path d="M52,468 C52.38,465.86 53.42,458.54 54.4,454.6 C55.38,450.66 56.82,447.3 58.1,443.4 C59.38,439.5 61.01,434.89 62.4,430.2 C63.79,425.51 65.5,419.25 66.8,414.1 C68.1,408.95 69.4,403.44 70.5,398 C71.6,392.56 73.19,382.96 73.7,380.1" fill="none" stroke="#3c8244" stroke-width="1.35" stroke-linejoin="round" stroke-linecap="round"/>
<path d="M52,445 C52.06,445.64 51.55,446.28 52.4,449 C53.25,451.72 55.35,457.34 57.3,462 C59.25,466.66 62.25,472.95 64.6,478.1 C66.95,483.25 69.89,489.42 72,494.2 C74.11,498.98 76.87,505.79 77.8,508" fill="none" stroke="#3c8244" stroke-width="1.35" stroke-linejoin="round" stroke-linecap="round"/>
<path d="M51.5,486.9 C51.96,485.25 52.99,480.58 54.4,476.6 C55.81,472.62 58.43,466.45 60.3,462 C62.17,457.55 64.47,452.32 66.1,448.8 C67.73,445.28 69.33,442.27 70.5,440 C71.67,437.73 72.34,436.41 73.4,434.6 C74.46,432.79 75.8,430.57 77.1,428.7 C78.4,426.83 80.22,425.94 81.5,422.9 C82.78,419.86 84.04,414.39 85.1,409.7 C86.16,405.01 87.27,398.34 88.1,393.6 C88.93,388.86 89.95,382.26 90.3,380.1" fill="none" stroke="#dd33ee" stroke-width="1.35" stroke-linejoin="round" stroke-linecap="round"/>
<path d="M52.4,431 C52.61,432.92 52.68,438.74 53.7,443 C54.72,447.26 57.06,453.39 58.8,457.6 C60.54,461.81 62.26,465.09 64.6,469.3 C66.94,473.51 70.58,479.45 73.4,483.9 C76.22,488.35 79.74,493.24 82.2,497.1 C84.66,500.96 87.74,506.26 88.8,508" fill="none" stroke="#dd33ee" stroke-width="1.35" stroke-linejoin="round" stroke-linecap="round"/>
<path d="M51.5,492.7 C52.2,491.07 54.03,486.48 55.9,482.5 C57.77,478.52 60.75,472.73 63.2,467.8 C65.65,462.87 68.74,456.15 71.2,451.7 C73.66,447.25 76.02,443.9 78.6,440 C81.18,436.1 84.96,430.04 87.3,427.3 C89.64,424.56 91.44,425.49 93.2,422.9 C94.96,420.31 96.78,415.56 98.3,411.1 C99.82,406.64 101.56,399.96 102.7,395 C103.84,390.04 104.97,382.48 105.4,380.1" fill="none" stroke="#2ee62e" stroke-width="1.35" stroke-linejoin="round" stroke-linecap="round"/>
<path d="M52,410 C52.08,413.2 52.18,425.52 52.5,430 C52.82,434.48 53.23,435.92 54,438 C54.77,440.08 55.83,440.57 57.3,443 C58.77,445.43 61.09,449.94 63.2,453.2 C65.31,456.46 67.92,459.9 70.5,463.4 C73.08,466.9 76.02,471.12 79.3,475.1 C82.58,479.08 87.48,484.32 91,488.3 C94.52,492.28 98.61,496.85 101.3,500 C103.99,503.15 106.76,506.72 107.8,508" fill="none" stroke="#2ee62e" stroke-width="1.35" stroke-linejoin="round" stroke-linecap="round"/>
<path d="M51.5,495.6 C52.43,493.73 55.2,488.11 57.3,483.9 C59.4,479.69 62.02,474.21 64.6,469.3 C67.18,464.39 70.81,457.89 73.4,453.2 C75.99,448.51 78.45,443.68 80.8,440 C83.15,436.32 85.76,432.71 88.1,430.2 C90.44,427.69 93.42,427.12 95.4,424.3 C97.38,421.48 98.98,417.05 100.5,412.6 C102.02,408.15 103.6,401.7 104.9,396.5 C106.2,391.3 108.01,382.72 108.6,380.1" fill="none" stroke="#2222ee" stroke-width="1.35" stroke-linejoin="round" stroke-linecap="round"/>
<path d="M52,408 C52.08,411.2 52.1,423.36 52.5,428 C52.9,432.64 53.6,434.6 54.5,437 C55.4,439.4 56.48,440.41 58.1,443 C59.72,445.59 62.38,449.94 64.6,453.2 C66.82,456.46 69.41,460.12 72,463.4 C74.59,466.68 77.52,469.94 80.8,473.7 C84.08,477.46 89,482.92 92.5,486.9 C96,490.88 99.9,495.22 102.7,498.6 C105.5,501.98 108.83,506.5 110,508" fill="none" stroke="#2222ee" stroke-width="1.35" stroke-linejoin="round" stroke-linecap="round"/>
<path d="M51.5,498.6 C52.67,496.25 56.22,488.59 58.8,483.9 C61.38,479.21 64.67,473.99 67.6,469.3 C70.53,464.61 74.3,459.29 77.1,454.6 C79.9,449.91 82.64,443.79 85.1,440 C87.56,436.21 89.8,433.64 92.5,430.9 C95.2,428.16 99.41,426.18 102,422.9 C104.59,419.62 106.7,414.75 108.7,410.4 C110.7,406.05 112.87,400.55 114.5,395.7 C116.13,390.85 118.2,382.6 118.9,380.1" fill="none" stroke="#ee2222" stroke-width="1.35" stroke-linejoin="round" stroke-linecap="round"/>
<path d="M52,404 C52.08,407.36 52.1,419.88 52.5,425 C52.9,430.12 53.49,433.12 54.5,436 C55.51,438.88 56.94,440.25 58.8,443 C60.66,445.75 63.76,450.16 66.1,453.2 C68.44,456.24 70.82,459.18 73.4,462 C75.98,464.82 78.92,467.3 82.2,470.8 C85.48,474.3 90.16,480.16 93.9,483.9 C97.64,487.64 102.54,491.62 105.6,494.2 C108.66,496.78 110.7,498.37 113,500 C115.3,501.63 118.27,503.15 120,504.4 C121.73,505.65 123.19,507.26 123.8,507.8" fill="none" stroke="#ee2222" stroke-width="1.35" stroke-linejoin="round" stroke-linecap="round"/>
<path d="M51.5,504.4 C52.67,502.3 56,495.75 58.8,491.3 C61.6,486.85 65.26,481.77 69,476.6 C72.74,471.43 78.44,463.45 82.2,459 C85.96,454.55 89.65,451.54 92.5,448.8 C95.35,446.06 97.63,444.17 100,441.9 C102.37,439.63 104.96,436.6 107.3,434.6 C109.64,432.6 112.6,430.7 114.6,429.4 C116.6,428.1 118.15,428.02 119.8,426.5 C121.45,424.98 122.92,422.59 124.9,419.9 C126.88,417.21 130.09,413.2 132.2,409.7 C134.31,406.2 136.58,401.52 138.1,398 C139.62,394.48 140.77,390.56 141.7,387.7 C142.63,384.84 143.55,381.32 143.9,380.1" fill="none" stroke="#1c1c1c" stroke-width="1.35" stroke-linejoin="round" stroke-linecap="round"/>
<path d="M52,422 C52.1,423.28 52.2,427.76 52.6,430 C53,432.24 53.62,434.24 54.5,436 C55.38,437.76 56.48,438.49 58.1,441 C59.72,443.51 62.15,449.04 64.6,451.7 C67.05,454.36 70.81,455.73 73.4,457.6 C75.99,459.47 78.22,461.53 80.8,463.4 C83.38,465.27 86.22,467.25 89.5,469.3 C92.78,471.35 98.02,474.46 101.3,476.2 C104.58,477.94 106.19,478.86 110,480.2 C113.81,481.54 120.28,483.19 125.1,484.6 C129.92,486.01 135.28,487.5 140.1,489 C144.92,490.5 150.37,492.48 155.2,494 C160.03,495.52 165.48,497.17 170.3,498.5 C175.12,499.83 180.48,501.21 185.3,502.3 C190.12,503.39 195.98,504.5 200.4,505.3 C204.82,506.1 210.4,506.88 212.9,507.3 C215.4,507.72 215.5,507.8 216,507.9" fill="none" stroke="#1c1c1c" stroke-width="1.35" stroke-linejoin="round" stroke-linecap="round"/>
<rect x="51.5" y="380" width="175.9" height="128.2" fill="none" stroke="#1c1c1c" stroke-width="1.3"/>
<line x1="51.5" y1="508.2" x2="51.5" y2="511.2" stroke="#1c1c1c" stroke-width="1.1"/>
<line x1="110.13" y1="508.2" x2="110.13" y2="511.2" stroke="#1c1c1c" stroke-width="1.1"/>
<line x1="168.77" y1="508.2" x2="168.77" y2="511.2" stroke="#1c1c1c" stroke-width="1.1"/>
<line x1="227.4" y1="508.2" x2="227.4" y2="511.2" stroke="#1c1c1c" stroke-width="1.1"/>
<line x1="80.82" y1="508.2" x2="80.82" y2="510" stroke="#1c1c1c" stroke-width="1.1"/>
<line x1="139.45" y1="508.2" x2="139.45" y2="510" stroke="#1c1c1c" stroke-width="1.1"/>
<line x1="198.08" y1="508.2" x2="198.08" y2="510" stroke="#1c1c1c" stroke-width="1.1"/>
<line x1="51.5" y1="508.2" x2="48.5" y2="508.2" stroke="#1c1c1c" stroke-width="1.1"/>
<line x1="51.5" y1="465.47" x2="48.5" y2="465.47" stroke="#1c1c1c" stroke-width="1.1"/>
<line x1="51.5" y1="422.73" x2="48.5" y2="422.73" stroke="#1c1c1c" stroke-width="1.1"/>
<line x1="51.5" y1="380" x2="48.5" y2="380" stroke="#1c1c1c" stroke-width="1.1"/>
<line x1="51.5" y1="486.83" x2="49.7" y2="486.83" stroke="#1c1c1c" stroke-width="1.1"/>
<line x1="51.5" y1="444.1" x2="49.7" y2="444.1" stroke="#1c1c1c" stroke-width="1.1"/>
<line x1="51.5" y1="401.37" x2="49.7" y2="401.37" stroke="#1c1c1c" stroke-width="1.1"/>
<text x="51.5" y="521" font-size="11" font-weight="bold" text-anchor="middle" fill="#1c1c1c" stroke="#1c1c1c" stroke-width="0.3">0</text>
<text x="110.13" y="521" font-size="11" font-weight="bold" text-anchor="middle" fill="#1c1c1c" stroke="#1c1c1c" stroke-width="0.3">500</text>
<text x="168.77" y="521" font-size="11" font-weight="bold" text-anchor="middle" fill="#1c1c1c" stroke="#1c1c1c" stroke-width="0.3">1000</text>
<text x="227.4" y="521" font-size="11" font-weight="bold" text-anchor="middle" fill="#1c1c1c" stroke="#1c1c1c" stroke-width="0.3">1500</text>
<text x="47.8" y="511.54" font-size="11" font-weight="bold" text-anchor="end" fill="#1c1c1c" stroke="#1c1c1c" stroke-width="0.3">0</text>
<text x="47.8" y="468.8" font-size="11" font-weight="bold" text-anchor="end" fill="#1c1c1c" stroke="#1c1c1c" stroke-width="0.3">1</text>
<text x="47.8" y="426.07" font-size="11" font-weight="bold" text-anchor="end" fill="#1c1c1c" stroke="#1c1c1c" stroke-width="0.3">2</text>
<text x="47.8" y="383.34" font-size="11" font-weight="bold" text-anchor="end" fill="#1c1c1c" stroke="#1c1c1c" stroke-width="0.3">3</text>
<text x="10.3" y="378.9" font-size="15.5" font-weight="bold" text-anchor="start" fill="#1c1c1c" stroke="#1c1c1c" stroke-width="0.3">d</text>
<text x="34.6" y="445" font-size="12.5" font-weight="bold" text-anchor="middle" fill="#1c1c1c" stroke="#1c1c1c" stroke-width="0.3" transform="rotate(-90 34.6 445)">Voltage (V vs Li<tspan font-size="7.75" dy="-4.75">+</tspan><tspan dy="4.75">/Li)</tspan></text>
<text x="62.4" y="537.5" font-size="12.6" font-weight="bold" text-anchor="start" fill="#1c1c1c" stroke="#1c1c1c" stroke-width="0.3">Specific capacity (mAh g<tspan font-size="7.81" dy="-4.79">-1</tspan><tspan dy="4.79">)</tspan></text>
<line x1="155.1" y1="388" x2="181" y2="388" stroke="#1c1c1c" stroke-width="1.5"/>
<text x="186.8" y="391.8" font-size="11" font-weight="normal" text-anchor="start" fill="#1c1c1c" stroke="#1c1c1c" stroke-width="0.1">0.1A g<tspan font-size="6.82" dy="-4.18">-1</tspan></text>
<line x1="155.1" y1="402" x2="181" y2="402" stroke="#ee2222" stroke-width="1.5"/>
<text x="186.8" y="405.8" font-size="11" font-weight="normal" text-anchor="start" fill="#1c1c1c" stroke="#1c1c1c" stroke-width="0.1">0.2</text>
<line x1="155.1" y1="416" x2="181" y2="416" stroke="#2222ee" stroke-width="1.5"/>
<text x="186.8" y="419.8" font-size="11" font-weight="normal" text-anchor="start" fill="#1c1c1c" stroke="#1c1c1c" stroke-width="0.1">0.5</text>
<line x1="155.1" y1="430" x2="181" y2="430" stroke="#2ee62e" stroke-width="1.5"/>
<text x="186.8" y="433.8" font-size="11" font-weight="normal" text-anchor="start" fill="#1c1c1c" stroke="#1c1c1c" stroke-width="0.1">1</text>
<line x1="155.1" y1="444" x2="181" y2="444" stroke="#dd33ee" stroke-width="1.5"/>
<text x="186.8" y="447.8" font-size="11" font-weight="normal" text-anchor="start" fill="#1c1c1c" stroke="#1c1c1c" stroke-width="0.1">2</text>
<line x1="155.1" y1="458" x2="181" y2="458" stroke="#3c8244" stroke-width="1.5"/>
<text x="186.8" y="461.8" font-size="11" font-weight="normal" text-anchor="start" fill="#1c1c1c" stroke="#1c1c1c" stroke-width="0.1">5</text>
<text x="159" y="484.7" font-size="11.3" font-weight="bold" text-anchor="start" fill="#1c1c1c" stroke="#1c1c1c" stroke-width="0.3">FeS@C-700</text>
<path d="M284.2,466.4 C284.79,463.58 286.84,453.89 287.9,448.8 C288.96,443.71 289.76,439.93 290.8,434.6 C291.84,429.27 293.34,421.36 294.4,415.5 C295.46,409.64 296.46,403.66 297.4,398 C298.34,392.34 299.84,382.96 300.3,380.1" fill="none" stroke="#4a9aa8" stroke-width="1.35" stroke-linejoin="round" stroke-linecap="round"/>
<path d="M283.8,445 C283.8,446.78 282.92,451.75 283.8,456.1 C284.68,460.45 287.48,467.05 289.3,472.2 C291.12,477.35 293.09,482.67 295.2,488.3 C297.31,493.93 301.33,504.34 302.5,507.4" fill="none" stroke="#4a9aa8" stroke-width="1.35" stroke-linejoin="round" stroke-linecap="round"/>
<path d="M283.8,483.9 C284.46,481.56 286.54,473.99 287.9,469.3 C289.26,464.61 291.02,458.33 292.3,454.6 C293.58,450.87 294.73,449.44 295.9,446 C297.07,442.56 298.54,436.57 299.6,433.1 C300.66,429.63 301.57,427.58 302.5,424.3 C303.43,421.02 304.58,416.81 305.4,412.6 C306.22,408.39 306.94,403.2 307.6,398 C308.26,392.8 309.2,382.96 309.5,380.1" fill="none" stroke="#dd33ee" stroke-width="1.35" stroke-linejoin="round" stroke-linecap="round"/>
<path d="M283.8,435 C283.8,437.67 282.92,446.92 283.8,451.7 C284.68,456.48 287.25,460.45 289.3,464.9 C291.35,469.35 294.25,474.81 296.6,479.5 C298.95,484.19 301.89,489.74 304,494.2 C306.11,498.66 308.87,505.29 309.8,507.4" fill="none" stroke="#dd33ee" stroke-width="1.35" stroke-linejoin="round" stroke-linecap="round"/>
<path d="M283.8,489.8 C284.46,487.93 286.32,482.55 287.9,478.1 C289.48,473.65 291.96,467.14 293.7,462 C295.44,456.86 297.39,451.09 298.8,446 C300.21,440.91 301.2,433.9 302.5,430.2 C303.8,426.5 305.73,425.72 306.9,422.9 C308.07,420.08 308.98,416.58 309.8,412.6 C310.62,408.62 311.25,403.2 312,398 C312.75,392.8 314.1,382.96 314.5,380.1" fill="none" stroke="#2ee62e" stroke-width="1.35" stroke-linejoin="round" stroke-linecap="round"/>
<path d="M283.8,425 C283.8,428.57 282.92,442.08 283.8,447.3 C284.68,452.52 287.25,454.08 289.3,457.6 C291.35,461.12 294.02,465.09 296.6,469.3 C299.18,473.51 302.12,477.8 305.4,483.9 C308.68,490 315.23,503.64 317.1,507.4" fill="none" stroke="#2ee62e" stroke-width="1.35" stroke-linejoin="round" stroke-linecap="round"/>
<path d="M283.8,494.2 C284.68,492.33 287.48,486.95 289.3,482.5 C291.12,478.05 293.55,471.09 295.2,466.4 C296.85,461.71 298.43,456.78 299.6,453.2 C300.77,449.62 301.44,447.46 302.5,444 C303.56,440.54 304.79,434.75 306.2,431.6 C307.61,428.45 309.78,427.1 311.3,424.3 C312.82,421.5 314.53,418.31 315.7,414.1 C316.87,409.89 317.72,403.44 318.6,398 C319.48,392.56 320.78,382.96 321.2,380.1" fill="none" stroke="#2222ee" stroke-width="1.35" stroke-linejoin="round" stroke-linecap="round"/>
<path d="M283.8,417 C283.86,420.92 283.32,435.71 284.2,441.5 C285.08,447.29 287.32,449.46 289.3,453.2 C291.28,456.94 294.02,460.92 296.6,464.9 C299.18,468.88 302.34,473.65 305.4,478.1 C308.46,482.55 312.53,488.25 315.7,492.7 C318.87,497.15 323.55,503.52 325.2,505.9 C326.85,508.28 325.87,507.33 326,507.6" fill="none" stroke="#2222ee" stroke-width="1.35" stroke-linejoin="round" stroke-linecap="round"/>
<path d="M283.8,500 C284.68,498.13 287.25,492.28 289.3,488.3 C291.35,484.32 294.25,479.55 296.6,475.1 C298.95,470.65 301.76,465.16 304,460.5 C306.24,455.84 308.84,449.68 310.6,446 C312.36,442.32 313.61,440.27 315,437.5 C316.39,434.73 317.78,430.81 319.3,428.7 C320.82,426.59 323.09,426.64 324.5,424.3 C325.91,421.96 326.69,418.55 328.1,414.1 C329.51,409.65 331.81,401.94 333.3,396.5 C334.79,391.06 336.74,382.72 337.4,380.1" fill="none" stroke="#ee2222" stroke-width="1.35" stroke-linejoin="round" stroke-linecap="round"/>
<path d="M283.8,405 C283.91,408.2 284.15,419.4 284.5,425 C284.85,430.6 285.23,436.66 286,440 C286.77,443.34 287.83,443.79 289.3,445.9 C290.77,448.01 293.09,450.4 295.2,453.2 C297.31,456 299.92,459.9 302.5,463.4 C305.08,466.9 308.48,471.12 311.3,475.1 C314.12,479.08 317.06,484.54 320.1,488.3 C323.14,492.06 326.91,495.51 330.3,498.6 C333.69,501.69 339.54,506.16 341.3,507.6" fill="none" stroke="#ee2222" stroke-width="1.35" stroke-linejoin="round" stroke-linecap="round"/>
<path d="M283.8,503 C284.92,500.65 288.51,492.52 290.8,488.3 C293.09,484.08 295.64,480.23 298.1,476.6 C300.56,472.97 303.38,469.34 306.2,465.6 C309.02,461.86 312.55,457.3 315.7,453.2 C318.85,449.1 323.61,442.75 325.9,440 C328.19,437.25 328.4,437.57 330,436 C331.6,434.43 334.25,431.59 335.9,430.2 C337.55,428.81 338.67,429.41 340.3,427.3 C341.93,425.19 344.47,420.52 346.1,417 C347.73,413.48 349.33,409.04 350.5,405.3 C351.67,401.56 352.5,397.63 353.4,393.6 C354.3,389.57 355.67,382.26 356.1,380.1" fill="none" stroke="#1c1c1c" stroke-width="1.35" stroke-linejoin="round" stroke-linecap="round"/>
<path d="M283.8,441.5 C284.92,442.67 288.51,446.22 290.8,448.8 C293.09,451.38 295.76,454.91 298.1,457.6 C300.44,460.29 302.82,463.49 305.4,465.6 C307.98,467.71 310.92,469.04 314.2,470.8 C317.48,472.56 321.68,474.89 325.9,476.6 C330.12,478.31 335.93,479.93 340.6,481.5 C345.27,483.07 350.38,484.8 355.1,486.4 C359.82,488 365.28,489.88 370.1,491.5 C374.92,493.12 380.37,495.01 385.2,496.5 C390.03,497.99 395.48,499.39 400.3,500.8 C405.12,502.21 410.88,504.26 415.3,505.3 C419.72,506.34 425.39,506.93 427.9,507.3 C430.41,507.67 430.5,507.55 431,507.6" fill="none" stroke="#1c1c1c" stroke-width="1.35" stroke-linejoin="round" stroke-linecap="round"/>
<rect x="283.3" y="380" width="175.6" height="127.6" fill="none" stroke="#1c1c1c" stroke-width="1.3"/>
<line x1="283.3" y1="507.6" x2="283.3" y2="510.6" stroke="#1c1c1c" stroke-width="1.1"/>
<line x1="341.83" y1="507.6" x2="341.83" y2="510.6" stroke="#1c1c1c" stroke-width="1.1"/>
<line x1="400.37" y1="507.6" x2="400.37" y2="510.6" stroke="#1c1c1c" stroke-width="1.1"/>
<line x1="458.9" y1="507.6" x2="458.9" y2="510.6" stroke="#1c1c1c" stroke-width="1.1"/>
<line x1="312.57" y1="507.6" x2="312.57" y2="509.4" stroke="#1c1c1c" stroke-width="1.1"/>
<line x1="371.1" y1="507.6" x2="371.1" y2="509.4" stroke="#1c1c1c" stroke-width="1.1"/>
<line x1="429.63" y1="507.6" x2="429.63" y2="509.4" stroke="#1c1c1c" stroke-width="1.1"/>
<line x1="283.3" y1="507.6" x2="280.3" y2="507.6" stroke="#1c1c1c" stroke-width="1.1"/>
<line x1="283.3" y1="465.07" x2="280.3" y2="465.07" stroke="#1c1c1c" stroke-width="1.1"/>
<line x1="283.3" y1="422.53" x2="280.3" y2="422.53" stroke="#1c1c1c" stroke-width="1.1"/>
<line x1="283.3" y1="380" x2="280.3" y2="380" stroke="#1c1c1c" stroke-width="1.1"/>
<line x1="283.3" y1="486.33" x2="281.5" y2="486.33" stroke="#1c1c1c" stroke-width="1.1"/>
<line x1="283.3" y1="443.8" x2="281.5" y2="443.8" stroke="#1c1c1c" stroke-width="1.1"/>
<line x1="283.3" y1="401.27" x2="281.5" y2="401.27" stroke="#1c1c1c" stroke-width="1.1"/>
<text x="283.3" y="520.5" font-size="11" font-weight="bold" text-anchor="middle" fill="#1c1c1c" stroke="#1c1c1c" stroke-width="0.3">0</text>
<text x="341.83" y="520.5" font-size="11" font-weight="bold" text-anchor="middle" fill="#1c1c1c" stroke="#1c1c1c" stroke-width="0.3">500</text>
<text x="400.37" y="520.5" font-size="11" font-weight="bold" text-anchor="middle" fill="#1c1c1c" stroke="#1c1c1c" stroke-width="0.3">1000</text>
<text x="458.9" y="520.5" font-size="11" font-weight="bold" text-anchor="middle" fill="#1c1c1c" stroke="#1c1c1c" stroke-width="0.3">1500</text>
<text x="279.5" y="510.94" font-size="11" font-weight="bold" text-anchor="end" fill="#1c1c1c" stroke="#1c1c1c" stroke-width="0.3">0</text>
<text x="279.5" y="468.4" font-size="11" font-weight="bold" text-anchor="end" fill="#1c1c1c" stroke="#1c1c1c" stroke-width="0.3">1</text>
<text x="279.5" y="425.87" font-size="11" font-weight="bold" text-anchor="end" fill="#1c1c1c" stroke="#1c1c1c" stroke-width="0.3">2</text>
<text x="279.5" y="383.34" font-size="11" font-weight="bold" text-anchor="end" fill="#1c1c1c" stroke="#1c1c1c" stroke-width="0.3">3</text>
<text x="244" y="378.9" font-size="15.5" font-weight="bold" text-anchor="start" fill="#1c1c1c" stroke="#1c1c1c" stroke-width="0.3">e</text>
<text x="267" y="449.3" font-size="12.5" font-weight="bold" text-anchor="middle" fill="#1c1c1c" stroke="#1c1c1c" stroke-width="0.3" transform="rotate(-90 267 449.3)">Voltage (V vs Li<tspan font-size="7.75" dy="-4.75">+</tspan><tspan dy="4.75">/Li)</tspan></text>
<text x="290.4" y="537" font-size="12.6" font-weight="bold" text-anchor="start" fill="#1c1c1c" stroke="#1c1c1c" stroke-width="0.3">Specific capacity (mAh g<tspan font-size="7.81" dy="-4.79">-1</tspan><tspan dy="4.79">)</tspan></text>
<line x1="384.4" y1="388.9" x2="410" y2="388.9" stroke="#1c1c1c" stroke-width="1.5"/>
<text x="416.5" y="392.7" font-size="11" font-weight="normal" text-anchor="start" fill="#1c1c1c" stroke="#1c1c1c" stroke-width="0.1">0.1 A g<tspan font-size="6.82" dy="-4.18">-1</tspan></text>
<line x1="384.4" y1="402.75" x2="410" y2="402.75" stroke="#ee2222" stroke-width="1.5"/>
<text x="416.5" y="406.55" font-size="11" font-weight="normal" text-anchor="start" fill="#1c1c1c" stroke="#1c1c1c" stroke-width="0.1">0.2</text>
<line x1="384.4" y1="416.6" x2="410" y2="416.6" stroke="#2222ee" stroke-width="1.5"/>
<text x="416.5" y="420.4" font-size="11" font-weight="normal" text-anchor="start" fill="#1c1c1c" stroke="#1c1c1c" stroke-width="0.1">0.5</text>
<line x1="384.4" y1="430.45" x2="410" y2="430.45" stroke="#2ee62e" stroke-width="1.5"/>
<text x="416.5" y="434.25" font-size="11" font-weight="normal" text-anchor="start" fill="#1c1c1c" stroke="#1c1c1c" stroke-width="0.1">1</text>
<line x1="384.4" y1="444.3" x2="410" y2="444.3" stroke="#dd33ee" stroke-width="1.5"/>
<text x="416.5" y="448.1" font-size="11" font-weight="normal" text-anchor="start" fill="#1c1c1c" stroke="#1c1c1c" stroke-width="0.1">2</text>
<line x1="384.4" y1="458.15" x2="410" y2="458.15" stroke="#5a7aac" stroke-width="1.5"/>
<text x="416.5" y="461.95" font-size="11" font-weight="normal" text-anchor="start" fill="#1c1c1c" stroke="#1c1c1c" stroke-width="0.1">5</text>
<text x="383" y="489.4" font-size="12.3" font-weight="bold" text-anchor="start" fill="#1c1c1c" stroke="#1c1c1c" stroke-width="0.3">FeS@C-800</text>
</svg></body></html>
